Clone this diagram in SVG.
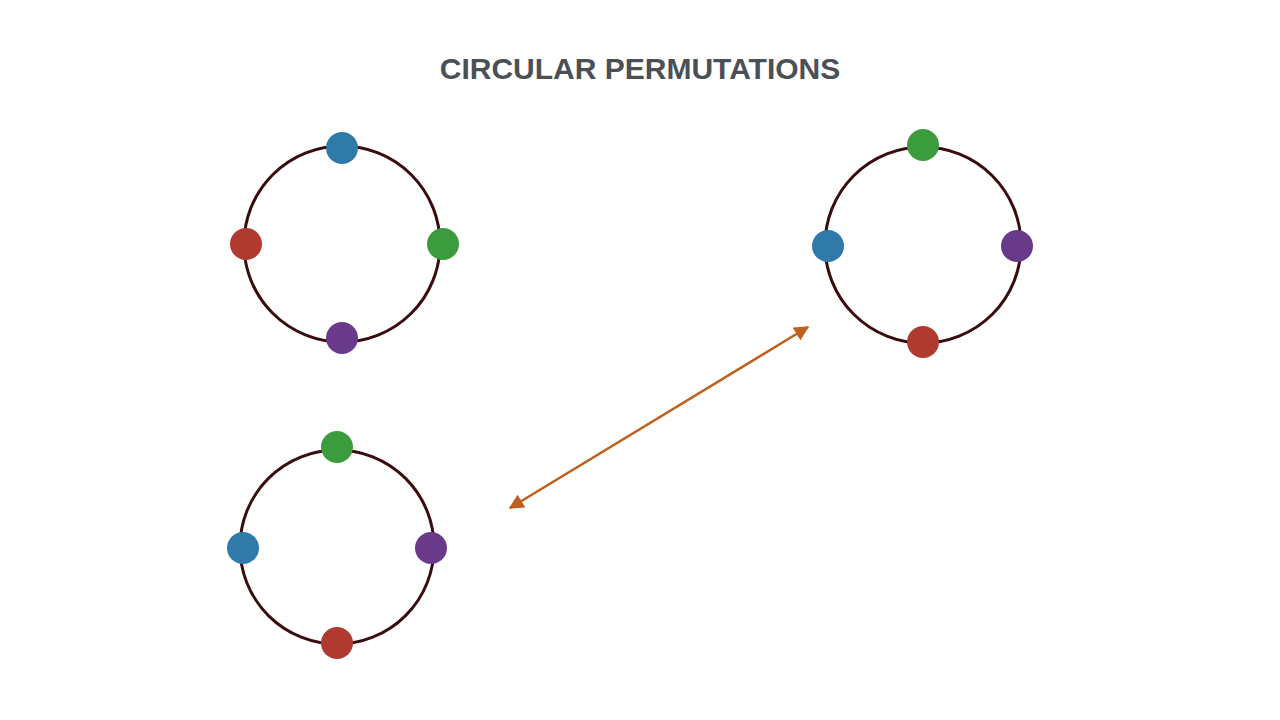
<svg xmlns="http://www.w3.org/2000/svg" width="1280" height="720" viewBox="0 0 1280 720">
<defs>
<style>
.ring{fill:none;stroke:#3a0c10;stroke-width:3}
.b{fill:#2f7aa8}.r{fill:#b03a30}.g{fill:#3a9c3c}.p{fill:#6a3a8a}
.title{font-family:"Liberation Sans",Arial,sans-serif;font-weight:bold;font-size:30px;fill:#4b5056}
</style>
<marker id="ah" viewBox="0 0 10 10" refX="9" refY="5" markerWidth="6" markerHeight="6" orient="auto-start-reverse">
<path d="M0,0 L10,5 L0,10 z" fill="#c0601e"/>
</marker>
</defs>
<rect width="1280" height="720" fill="#ffffff"/>
<text class="title" x="640" y="79" text-anchor="middle">CIRCULAR PERMUTATIONS</text>
<g id="circle1">
<circle class="ring" cx="342" cy="244" r="98"/>
<circle class="b" cx="342" cy="148" r="16"/>
<circle class="r" cx="246" cy="244" r="16"/>
<circle class="g" cx="443" cy="244" r="16"/>
<circle class="p" cx="342" cy="338" r="16"/>
</g>
<g id="circle2">
<circle class="ring" cx="923" cy="245" r="98"/>
<circle class="g" cx="923" cy="145" r="16"/>
<circle class="b" cx="828" cy="246" r="16"/>
<circle class="p" cx="1017" cy="246" r="16"/>
<circle class="r" cx="923" cy="342" r="16"/>
</g>
<g id="circle3">
<circle class="ring" cx="337" cy="547" r="97"/>
<circle class="g" cx="337" cy="447" r="16"/>
<circle class="b" cx="243" cy="548" r="16"/>
<circle class="p" cx="431" cy="548" r="16"/>
<circle class="r" cx="337" cy="643" r="16"/>
</g>
<g id="connectors">
<line x1="510" y1="508" x2="808" y2="327" stroke="#c0601e" stroke-width="2.5" marker-start="url(#ah)" marker-end="url(#ah)"/>
</g>
</svg>
